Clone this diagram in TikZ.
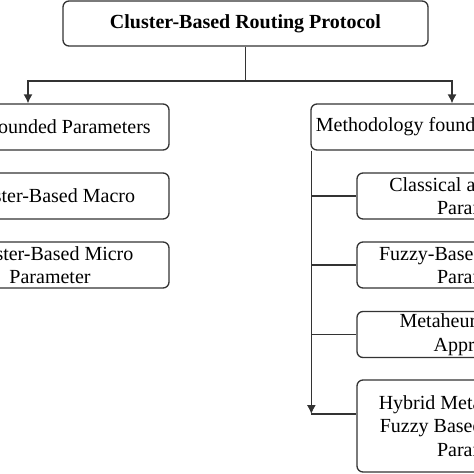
\documentclass[tikz,border=0pt]{standalone}
\usepackage{fontspec}
\setmainfont{Liberation Serif}
\usetikzlibrary{arrows.meta}
\definecolor{edge}{HTML}{333333}
\tikzset{
  box/.style={draw=edge, line width=1.3pt, rounded corners=6pt, align=center,
    inner sep=0pt, font=\fontsize{20}{23.5}\selectfont},
  link/.style={draw=edge, line width=1.3pt},
  arrow/.style={link, -{Latex[length=9pt,width=9pt]}}
}
\begin{document}
\begin{tikzpicture}[x=1pt, y=-1pt]
  \useasboundingbox (0,0) rectangle (474,474);
  \clip (0,0) rectangle (474,474);
  \node[box, minimum width=365, minimum height=45, font=\fontsize{20}{23.5}\selectfont\bfseries] (root) at (245.5,23.5) {Cluster-Based Routing Protocol};
  % left column
  \node[box, minimum width=282, minimum height=46] (param) at (28,127) {Parameter founded Parameters};
  \node[box, minimum width=238, minimum height=46] (macro) at (50,196) {Cluster-Based Macro};
  \node[box, minimum width=238, minimum height=46] (micro) at (50,265) {Cluster-Based Micro\\Parameter};
  % right column
  \node[box, minimum width=282, minimum height=46] (method) at (452,127) {Methodology founded Parameters};
  \node[box, minimum width=249, minimum height=46] (classic) at (481.5,196) {Classical and Heuristic\\Parameters};
  \node[box, minimum width=249, minimum height=46] (fuzzy) at (481.5,265) {Fuzzy-Based Approaches\\Parameters};
  \node[box, minimum width=249, minimum height=46] (meta) at (481.5,334.5) {Metaheuristic Based\\Approaches};
  \node[box, minimum width=249, minimum height=92] (hybrid) at (481.5,426) {Hybrid Metaheuristic and\\Fuzzy Based Approaches\\Parameters};

  \coordinate (fork) at (245.5,81);
  \draw[link] (root.south) -- (fork);
  \draw[arrow] (fork) -| (param.north);
  \draw[arrow] (fork) -| (method.north);

  \coordinate (trunk) at ([xshift=1pt]method.south west);
  \coordinate (corner) at (trunk |- 0,414);
  \draw[arrow] (trunk) -- (corner);
  \draw[link] (corner) -- (corner -| hybrid.west);
  \foreach \n in {classic,fuzzy,meta}
    \draw[link] (trunk |- \n.west) -- (\n.west);
\end{tikzpicture}
\end{document}
